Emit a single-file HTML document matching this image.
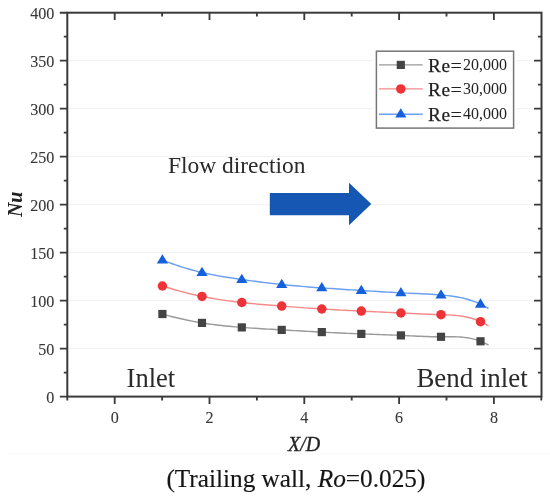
<!DOCTYPE html>
<html lang="en"><head><meta charset="utf-8"><title>Nu vs X/D - Trailing wall, Ro=0.025</title>
<style>html,body{margin:0;padding:0;background:#fff}body{width:550px;height:499px;overflow:hidden}</style></head>
<body>
<svg width="550" height="499" viewBox="0 0 550 499" style="display:block">
<rect width="550" height="499" fill="#fff"/>
<line x1="67.3" x2="532.5" y1="348.61" y2="348.61" stroke="#f0f0f0" stroke-width="1"/>
<line x1="67.3" x2="532.5" y1="300.62" y2="300.62" stroke="#f0f0f0" stroke-width="1"/>
<line x1="67.3" x2="532.5" y1="252.64" y2="252.64" stroke="#f0f0f0" stroke-width="1"/>
<line x1="67.3" x2="532.5" y1="204.65" y2="204.65" stroke="#f0f0f0" stroke-width="1"/>
<line x1="67.3" x2="532.5" y1="156.66" y2="156.66" stroke="#f0f0f0" stroke-width="1"/>
<line x1="67.3" x2="532.5" y1="108.68" y2="108.68" stroke="#f0f0f0" stroke-width="1"/>
<line x1="67.3" x2="532.5" y1="60.69" y2="60.69" stroke="#f0f0f0" stroke-width="1"/>
<path d="M162.40,314.00 L165.70,314.93 L169.00,315.83 L172.30,316.69 L175.60,317.52 L178.90,318.31 L182.20,319.07 L185.50,319.79 L188.80,320.48 L192.10,321.14 L195.40,321.76 L198.70,322.35 L202.00,322.90 L205.32,323.42 L208.63,323.91 L211.95,324.37 L215.27,324.80 L218.58,325.20 L221.90,325.57 L225.22,325.93 L228.53,326.26 L231.85,326.57 L235.17,326.86 L238.48,327.14 L241.80,327.40 L245.12,327.65 L248.45,327.89 L251.78,328.12 L255.10,328.34 L258.43,328.55 L261.75,328.76 L265.07,328.96 L268.40,329.15 L271.73,329.34 L275.05,329.53 L278.38,329.71 L281.70,329.90 L285.04,330.09 L288.38,330.27 L291.73,330.46 L295.07,330.65 L298.41,330.84 L301.75,331.02 L305.09,331.21 L308.43,331.39 L311.77,331.57 L315.12,331.75 L318.46,331.93 L321.80,332.10 L325.09,332.27 L328.38,332.43 L331.68,332.60 L334.97,332.76 L338.26,332.91 L341.55,333.07 L344.84,333.21 L348.13,333.36 L351.43,333.50 L354.72,333.64 L358.01,333.77 L361.30,333.90 L364.60,334.02 L367.90,334.15 L371.20,334.26 L374.50,334.38 L377.80,334.50 L381.10,334.62 L384.40,334.74 L387.70,334.86 L391.00,334.99 L394.30,335.12 L397.60,335.26 L400.90,335.40 L404.24,335.55 L407.58,335.71 L410.92,335.87 L414.27,336.03 L417.61,336.18 L420.95,336.32 L424.29,336.46 L427.63,336.57 L430.98,336.67 L434.32,336.74 L437.66,336.78 L441.00,336.80 L444.29,336.79 L447.58,336.77 L450.88,336.76 L454.17,336.80 L457.46,336.89 L460.75,337.07 L464.04,337.36 L467.33,337.79 L470.62,338.37 L473.92,339.14 L477.21,340.10 L480.50,341.30 L481.17,341.57 L481.83,341.85 L482.50,342.14 L483.17,342.44 L483.83,342.75 L484.50,343.06 L485.17,343.37 L485.83,343.69 L486.50,344.02 L487.17,344.34 L487.83,344.67 L488.50,345.00" fill="none" stroke="#9a9a9a" stroke-width="1.45" stroke-linejoin="round"/>
<rect x="158.30" y="309.90" width="8.2" height="8.2" fill="#444444"/>
<rect x="197.90" y="318.80" width="8.2" height="8.2" fill="#444444"/>
<rect x="237.70" y="323.30" width="8.2" height="8.2" fill="#444444"/>
<rect x="277.60" y="325.80" width="8.2" height="8.2" fill="#444444"/>
<rect x="317.70" y="328.00" width="8.2" height="8.2" fill="#444444"/>
<rect x="357.20" y="329.80" width="8.2" height="8.2" fill="#444444"/>
<rect x="396.80" y="331.30" width="8.2" height="8.2" fill="#444444"/>
<rect x="436.90" y="332.70" width="8.2" height="8.2" fill="#444444"/>
<rect x="476.40" y="337.20" width="8.2" height="8.2" fill="#444444"/>
<path d="M162.40,286.00 L165.70,287.05 L169.00,288.06 L172.30,289.04 L175.60,289.99 L178.90,290.90 L182.20,291.79 L185.50,292.64 L188.80,293.45 L192.10,294.24 L195.40,294.99 L198.70,295.71 L202.00,296.40 L205.32,297.06 L208.63,297.69 L211.95,298.28 L215.27,298.85 L218.58,299.39 L221.90,299.90 L225.22,300.39 L228.53,300.86 L231.85,301.30 L235.17,301.72 L238.48,302.12 L241.80,302.50 L245.12,302.86 L248.45,303.21 L251.78,303.55 L255.10,303.87 L258.43,304.17 L261.75,304.47 L265.07,304.76 L268.40,305.04 L271.73,305.31 L275.05,305.58 L278.38,305.84 L281.70,306.10 L285.04,306.36 L288.38,306.62 L291.73,306.88 L295.07,307.13 L298.41,307.38 L301.75,307.63 L305.09,307.87 L308.43,308.11 L311.77,308.34 L315.12,308.57 L318.46,308.79 L321.80,309.00 L325.09,309.20 L328.38,309.40 L331.68,309.58 L334.97,309.77 L338.26,309.95 L341.55,310.12 L344.84,310.29 L348.13,310.45 L351.43,310.62 L354.72,310.78 L358.01,310.94 L361.30,311.10 L364.60,311.26 L367.90,311.42 L371.20,311.58 L374.50,311.74 L377.80,311.90 L381.10,312.06 L384.40,312.21 L387.70,312.37 L391.00,312.53 L394.30,312.69 L397.60,312.84 L400.90,313.00 L404.24,313.16 L407.58,313.31 L410.92,313.47 L414.27,313.62 L417.61,313.77 L420.95,313.92 L424.29,314.06 L427.63,314.20 L430.98,314.33 L434.32,314.46 L437.66,314.58 L441.00,314.70 L444.29,314.81 L447.58,314.94 L450.88,315.10 L454.17,315.32 L457.46,315.62 L460.75,316.02 L464.04,316.54 L467.33,317.20 L470.62,318.02 L473.92,319.04 L477.21,320.25 L480.50,321.70 L481.17,322.02 L481.83,322.35 L482.50,322.69 L483.17,323.04 L483.83,323.40 L484.50,323.76 L485.17,324.12 L485.83,324.49 L486.50,324.87 L487.17,325.24 L487.83,325.62 L488.50,326.00" fill="none" stroke="#f58a8a" stroke-width="1.45" stroke-linejoin="round"/>
<circle cx="162.40" cy="286.00" r="4.75" fill="#ee3338"/>
<circle cx="202.00" cy="296.40" r="4.75" fill="#ee3338"/>
<circle cx="241.80" cy="302.50" r="4.75" fill="#ee3338"/>
<circle cx="281.70" cy="306.10" r="4.75" fill="#ee3338"/>
<circle cx="321.80" cy="309.00" r="4.75" fill="#ee3338"/>
<circle cx="361.30" cy="311.10" r="4.75" fill="#ee3338"/>
<circle cx="400.90" cy="313.00" r="4.75" fill="#ee3338"/>
<circle cx="441.00" cy="314.70" r="4.75" fill="#ee3338"/>
<circle cx="480.50" cy="321.70" r="4.75" fill="#ee3338"/>
<path d="M162.40,260.10 L165.70,261.38 L169.00,262.61 L172.30,263.79 L175.60,264.94 L178.90,266.04 L182.20,267.09 L185.50,268.10 L188.80,269.07 L192.10,269.99 L195.40,270.87 L198.70,271.71 L202.00,272.50 L205.32,273.25 L208.63,273.96 L211.95,274.64 L215.27,275.27 L218.58,275.88 L221.90,276.46 L225.22,277.01 L228.53,277.54 L231.85,278.05 L235.17,278.54 L238.48,279.03 L241.80,279.50 L245.12,279.97 L248.45,280.43 L251.78,280.88 L255.10,281.32 L258.43,281.76 L261.75,282.18 L265.07,282.60 L268.40,283.00 L271.73,283.40 L275.05,283.78 L278.38,284.15 L281.70,284.50 L285.04,284.84 L288.38,285.17 L291.73,285.49 L295.07,285.79 L298.41,286.08 L301.75,286.37 L305.09,286.64 L308.43,286.91 L311.77,287.16 L315.12,287.42 L318.46,287.66 L321.80,287.90 L325.09,288.13 L328.38,288.36 L331.68,288.58 L334.97,288.81 L338.26,289.02 L341.55,289.24 L344.84,289.45 L348.13,289.67 L351.43,289.88 L354.72,290.08 L358.01,290.29 L361.30,290.50 L364.60,290.71 L367.90,290.91 L371.20,291.12 L374.50,291.32 L377.80,291.52 L381.10,291.72 L384.40,291.91 L387.70,292.10 L391.00,292.29 L394.30,292.46 L397.60,292.64 L400.90,292.80 L404.24,292.96 L407.58,293.11 L410.92,293.26 L414.27,293.42 L417.61,293.57 L420.95,293.73 L424.29,293.91 L427.63,294.09 L430.98,294.29 L434.32,294.50 L437.66,294.74 L441.00,295.00 L444.29,295.28 L447.58,295.61 L450.88,295.99 L454.17,296.43 L457.46,296.96 L460.75,297.59 L464.04,298.33 L467.33,299.19 L470.62,300.20 L473.92,301.36 L477.21,302.69 L480.50,304.20 L481.17,304.53 L481.83,304.87 L482.50,305.21 L483.17,305.56 L483.83,305.92 L484.50,306.28 L485.17,306.64 L485.83,307.01 L486.50,307.38 L487.17,307.75 L487.83,308.13 L488.50,308.50" fill="none" stroke="#6c9ff0" stroke-width="1.45" stroke-linejoin="round"/>
<path d="M162.40,254.25 L168.00,263.55 L156.80,263.55 Z" fill="#1560dd"/>
<path d="M202.00,266.65 L207.60,275.95 L196.40,275.95 Z" fill="#1560dd"/>
<path d="M241.80,273.65 L247.40,282.95 L236.20,282.95 Z" fill="#1560dd"/>
<path d="M281.70,278.65 L287.30,287.95 L276.10,287.95 Z" fill="#1560dd"/>
<path d="M321.80,282.05 L327.40,291.35 L316.20,291.35 Z" fill="#1560dd"/>
<path d="M361.30,284.65 L366.90,293.95 L355.70,293.95 Z" fill="#1560dd"/>
<path d="M400.90,286.95 L406.50,296.25 L395.30,296.25 Z" fill="#1560dd"/>
<path d="M441.00,289.15 L446.60,298.45 L435.40,298.45 Z" fill="#1560dd"/>
<path d="M480.50,298.35 L486.10,307.65 L474.90,307.65 Z" fill="#1560dd"/>
<rect x="67.30" y="12.70" width="474.20" height="383.90" fill="none" stroke="#3a3a3a" stroke-width="2"/>
<path d="M67.30,396.60 h-7.50 M67.30,372.61 h-3.50 M541.50,372.61 h-3.50 M67.30,348.61 h-7.50 M541.50,348.61 h-7.50 M67.30,324.62 h-3.50 M541.50,324.62 h-3.50 M67.30,300.62 h-7.50 M541.50,300.62 h-7.50 M67.30,276.63 h-3.50 M541.50,276.63 h-3.50 M67.30,252.64 h-7.50 M541.50,252.64 h-7.50 M67.30,228.64 h-3.50 M541.50,228.64 h-3.50 M67.30,204.65 h-7.50 M541.50,204.65 h-7.50 M67.30,180.66 h-3.50 M541.50,180.66 h-3.50 M67.30,156.66 h-7.50 M541.50,156.66 h-7.50 M67.30,132.67 h-3.50 M541.50,132.67 h-3.50 M67.30,108.68 h-7.50 M541.50,108.68 h-7.50 M67.30,84.68 h-3.50 M541.50,84.68 h-3.50 M67.30,60.69 h-7.50 M541.50,60.69 h-7.50 M67.30,36.69 h-3.50 M541.50,36.69 h-3.50 M67.30,12.70 h-7.50 M67.30,396.60 v3.80 M114.70,396.60 v7.30 M114.70,12.70 v7.30 M162.10,396.60 v3.80 M162.10,12.70 v3.80 M209.50,396.60 v7.30 M209.50,12.70 v7.30 M256.90,396.60 v3.80 M256.90,12.70 v3.80 M304.30,396.60 v7.30 M304.30,12.70 v7.30 M351.70,396.60 v3.80 M351.70,12.70 v3.80 M399.10,396.60 v7.30 M399.10,12.70 v7.30 M446.50,396.60 v3.80 M446.50,12.70 v3.80 M493.90,396.60 v7.30 M493.90,12.70 v7.30 M541.30,396.60 v3.80" stroke="#3a3a3a" stroke-width="1.85" fill="none"/>
<g font-family="'Liberation Serif', serif" font-size="16.1" fill="#383838" stroke="#383838" stroke-width="0.1">
<text x="54.4" y="403.30" text-anchor="end">0</text>
<text x="54.4" y="355.31" text-anchor="end">50</text>
<text x="54.4" y="307.32" text-anchor="end">100</text>
<text x="54.4" y="259.34" text-anchor="end">150</text>
<text x="54.4" y="211.35" text-anchor="end">200</text>
<text x="54.4" y="163.36" text-anchor="end">250</text>
<text x="54.4" y="115.38" text-anchor="end">300</text>
<text x="54.4" y="67.39" text-anchor="end">350</text>
<text x="54.4" y="19.40" text-anchor="end">400</text>
<text x="114.70" y="423.0" text-anchor="middle">0</text>
<text x="209.50" y="423.0" text-anchor="middle">2</text>
<text x="304.30" y="423.0" text-anchor="middle">4</text>
<text x="399.10" y="423.0" text-anchor="middle">6</text>
<text x="493.90" y="423.0" text-anchor="middle">8</text>
</g>
<text x="304.2" y="450.5" text-anchor="middle" font-family="'Liberation Serif', serif" font-style="italic" font-size="20" fill="#222" stroke="#222" stroke-width="0.3">X/D</text>
<text transform="translate(22.1,204.3) rotate(-90)" text-anchor="middle" font-family="'Liberation Serif', serif" font-style="italic" font-weight="bold" font-size="20" fill="#222">Nu</text>
<g font-family="'Liberation Serif', serif" fill="#2a2a2a">
<text x="168" y="172.5" font-size="23.45">Flow direction</text>
<text x="126.6" y="386.5" font-size="26.5">Inlet</text>
<text x="416.4" y="386.5" font-size="26.9">Bend inlet</text>
<text x="166.4" y="486.7" font-size="25.28" fill="#151515" stroke="#151515" stroke-width="0.15">(Trailing wall, <tspan font-style="italic">Ro</tspan>=0.025)</text>
</g>
<path d="M269.8,192.9 H349 V182.7 L371.3,203.9 L349,225.2 V215.2 H269.8 Z" fill="#1757b4"/>
<rect x="373" y="48" width="143" height="83" fill="#fff"/><rect x="376.4" y="51.2" width="137.2" height="76.9" fill="#fff" stroke="#767676" stroke-width="1.5"/>
<line x1="379" x2="422.7" y1="64.9" y2="64.9" stroke="#9a9a9a" stroke-width="1.4"/>
<rect x="396.70" y="60.80" width="8.2" height="8.2" fill="#444444"/>
<line x1="379" x2="422.7" y1="88.9" y2="88.9" stroke="#f58a8a" stroke-width="1.4"/>
<circle cx="400.80" cy="88.90" r="4.75" fill="#ee3338"/>
<line x1="379" x2="422.7" y1="114.2" y2="114.2" stroke="#6c9ff0" stroke-width="1.4"/>
<path d="M400.80,108.15 L406.40,117.45 L395.20,117.45 Z" fill="#1560dd"/>
<text x="428.0" y="71.5" font-family="'Liberation Serif', serif" font-size="19.3" fill="#222" stroke="#222" stroke-width="0.25" letter-spacing="0.7">Re=</text>
<text x="463.0" y="69.7" font-family="'Liberation Serif', serif" font-size="17" fill="#222" textLength="44" lengthAdjust="spacingAndGlyphs">20,000</text>
<text x="428.0" y="95.5" font-family="'Liberation Serif', serif" font-size="19.3" fill="#222" stroke="#222" stroke-width="0.25" letter-spacing="0.7">Re=</text>
<text x="463.0" y="93.7" font-family="'Liberation Serif', serif" font-size="17" fill="#222" textLength="44" lengthAdjust="spacingAndGlyphs">30,000</text>
<text x="428.0" y="120.5" font-family="'Liberation Serif', serif" font-size="19.3" fill="#222" stroke="#222" stroke-width="0.25" letter-spacing="0.7">Re=</text>
<text x="463.0" y="118.7" font-family="'Liberation Serif', serif" font-size="17" fill="#222" textLength="44" lengthAdjust="spacingAndGlyphs">40,000</text>
<line x1="6" x2="550" y1="454.1" y2="454.1" stroke="#fcfcfc" stroke-width="1.6"/>
</svg>
</body></html>
